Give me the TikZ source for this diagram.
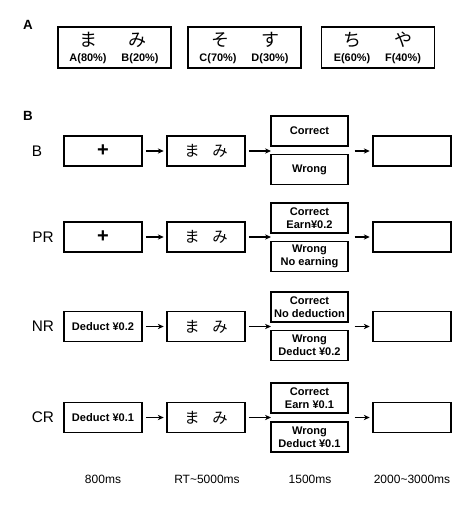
\documentclass[tikz,border=0pt]{standalone}
\usepackage{fontspec}
\setmainfont{Liberation Sans}
\newfontfamily\jp{Noto Sans CJK JP}
\usetikzlibrary{arrows.meta}
\begin{document}
\begin{tikzpicture}[x=0.75pt,y=-0.75pt,
  box/.style={draw,line width=0.9pt,minimum width=58.5pt,minimum height=22.5pt,inner sep=0pt,align=center,font=\bfseries\fontsize{8.3}{9}\selectfont},
  fb/.style={draw,line width=0.9pt,minimum width=57.75pt,minimum height=22.5pt,inner sep=0pt,align=center,font=\bfseries\fontsize{8.3}{9.8}\selectfont},
  abox/.style={draw,line width=0.9pt,minimum width=84.75pt,minimum height=30.75pt,inner sep=0pt},
  kana/.style={font=\jp\fontsize{13.5}{13.5}\selectfont,inner sep=0pt},
  klab/.style={font=\bfseries\fontsize{8.2}{9}\selectfont,inner sep=0pt},
  rowlab/.style={font=\fontsize{11.5}{12}\selectfont,inner sep=0pt},
  tlab/.style={font=\fontsize{9}{10}\selectfont,inner sep=0pt},
  plab/.style={font=\bfseries\fontsize{10}{11}\selectfont,inner sep=0pt},
  arr/.style={-{Stealth[length=4.5pt,width=4pt]},line width=0.9pt,shorten <=2.5pt,shorten >=2pt},
  mm/.style={font=\jp\fontsize{11.5}{11.5}\selectfont}]
\useasboundingbox (0,0) rectangle (474,505);
% Panel A
\node[plab] (pA) at (28,25) {A};
\node[abox] (a1) at (114.5,47.5) {};
\node[abox] (a2) at (244.5,47.5) {};
\node[abox] (a3) at (378,47.5) {};
\node[kana] (k1) at (88,40) {ま};
\node[kana] (k2) at (137,40) {み};
\node[klab] (l1) at (88,59) {A(80\%)};
\node[klab] (l2) at (140,59) {B(20\%)};
\node[kana] (k3) at (220,40) {そ};
\node[kana] (k4) at (270,40) {す};
\node[klab] (l3) at (218,59) {C(70\%)};
\node[klab] (l4) at (270,59) {D(30\%)};
\node[kana] (k5) at (352,40) {ち};
\node[kana] (k6) at (403,40) {や};
\node[klab] (l5) at (352,59) {E(60\%)};
\node[klab] (l6) at (403,59) {F(40\%)};
% Panel B
\node[plab] (pB) at (28,116) {B};
% Row B
\node[rowlab] (rB) at (37,151) {B};
\node[box] (b1) at (103,151) {\fontsize{15}{15}\selectfont +};
\node[box,mm] (b2) at (206,151) {ま\hspace{9.5pt}み};
\node[fb] (b3) at (309.5,131) {Correct};
\node[fb] (b4) at (309.5,169.5) {Wrong};
\node[box] (b5) at (412,151) {};
\coordinate (b3in) at (271,151);
\coordinate (b3out) at (348,151);
\draw[arr] (b1) -- (b2);
\draw[arr,shorten >=0pt] (b2) -- (b3in);
\draw[arr,shorten <=5pt] (b3out) -- (b5);
% Row PR
\node[rowlab] (rPR) at (43,237) {PR};
\node[box] (p1) at (103,237) {\fontsize{15}{15}\selectfont +};
\node[box,mm] (p2) at (206,237) {ま\hspace{9.5pt}み};
\node[fb] (p3) at (309.5,218) {Correct\\Earn¥0.2};
\node[fb] (p4) at (309.5,256.5) {Wrong\\No earning};
\node[box] (p5) at (412,237) {};
\coordinate (p3in) at (271,237);
\coordinate (p3out) at (348,237);
\draw[arr] (p1) -- (p2);
\draw[arr,shorten >=0pt] (p2) -- (p3in);
\draw[arr,shorten <=5pt] (p3out) -- (p5);
% Row NR
\node[rowlab] (rNR) at (43,326.5) {NR};
\node[box] (n1) at (103,326.5) {Deduct ¥0.2};
\node[box,mm] (n2) at (206,326.5) {ま\hspace{9.5pt}み};
\node[fb] (n3) at (309.5,307) {Correct\\No deduction};
\node[fb] (n4) at (309.5,345.5) {Wrong\\Deduct ¥0.2};
\node[box] (n5) at (412,326.5) {};
\coordinate (n3in) at (271,326.5);
\coordinate (n3out) at (348,326.5);
\draw[arr] (n1) -- (n2);
\draw[arr,shorten >=0pt] (n2) -- (n3in);
\draw[arr,shorten <=5pt] (n3out) -- (n5);
% Row CR
\node[rowlab] (rCR) at (43,417.5) {CR};
\node[box] (c1) at (103,417.5) {Deduct ¥0.1};
\node[box,mm] (c2) at (206,417.5) {ま\hspace{9.5pt}み};
\node[fb] (c3) at (309.5,398) {Correct\\Earn ¥0.1};
\node[fb] (c4) at (309.5,437) {Wrong\\Deduct ¥0.1};
\node[box] (c5) at (412,417.5) {};
\coordinate (c3in) at (271,417.5);
\coordinate (c3out) at (348,417.5);
\draw[arr] (c1) -- (c2);
\draw[arr,shorten >=0pt] (c2) -- (c3in);
\draw[arr,shorten <=5pt] (c3out) -- (c5);
% timing labels
\node[tlab] (t1) at (103,479) {800ms};
\node[tlab] (t2) at (207,479) {RT\textasciitilde5000ms};
\node[tlab] (t3) at (310,479) {1500ms};
\node[tlab] (t4) at (412,479) {2000\textasciitilde3000ms};
\end{tikzpicture}
\end{document}
